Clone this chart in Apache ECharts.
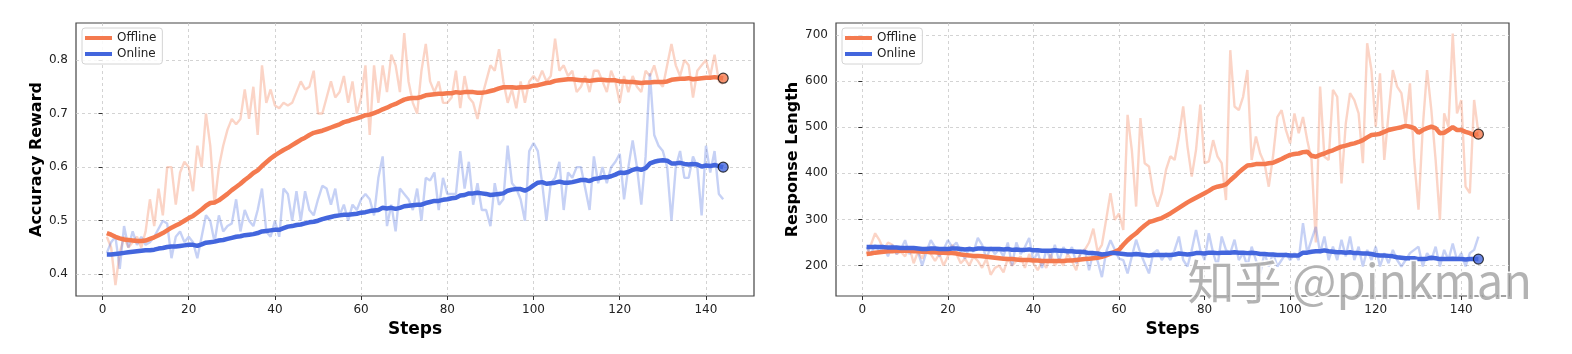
<!DOCTYPE html>
<html>
<head>
<meta charset="utf-8">
<script src="https://cdn.jsdelivr.net/npm/echarts@6.0.0/dist/echarts.min.js"></script>
<style>
  html, body { margin: 0; padding: 0; background: #fff; }
  #chart { width: 1572px; height: 354px; }
</style>
</head>
<body>
<div id="chart"></div>
<script>
// x: training step index
const steps = Array.from({ length: 144 }, (_, i) => i + 1);

// left panel: accuracy reward
const accOfflineRaw = [
  0.47, 0.45, 0.38, 0.44, 0.47, 0.45, 0.46, 0.47, 0.45, 0.48,
  0.54, 0.49, 0.56, 0.51, 0.60, 0.60, 0.53, 0.59, 0.61, 0.60,
  0.555, 0.64, 0.60, 0.70, 0.64, 0.53, 0.60, 0.64, 0.67, 0.69,
  0.68, 0.69, 0.745, 0.69, 0.75, 0.66, 0.79, 0.72, 0.745, 0.715,
  0.71, 0.72, 0.715, 0.72, 0.74, 0.76, 0.745, 0.75, 0.78, 0.70,
  0.70, 0.73, 0.76, 0.73, 0.74, 0.77, 0.72, 0.76, 0.70, 0.73,
  0.79, 0.66, 0.79, 0.72, 0.79, 0.74, 0.81, 0.79, 0.74, 0.85,
  0.76, 0.72, 0.70, 0.78, 0.83, 0.76, 0.74, 0.76, 0.72, 0.72,
  0.73, 0.78, 0.71, 0.77, 0.73, 0.72, 0.69, 0.73, 0.76, 0.79,
  0.78, 0.82, 0.76, 0.72, 0.745, 0.71, 0.76, 0.72, 0.76, 0.77,
  0.76, 0.78, 0.76, 0.77, 0.84, 0.78, 0.79, 0.77, 0.78, 0.74,
  0.75, 0.77, 0.74, 0.78, 0.78, 0.76, 0.74, 0.78, 0.76, 0.72,
  0.77, 0.74, 0.77, 0.75, 0.74, 0.78, 0.77, 0.79, 0.76, 0.75,
  0.79, 0.83, 0.79, 0.77, 0.80, 0.79, 0.73, 0.78, 0.79, 0.80,
  0.77, 0.81, 0.76, 0.755
];
const accOnlineRaw = [
  0.44, 0.46, 0.47, 0.41, 0.49, 0.45, 0.48, 0.455, 0.47, 0.455,
  0.46, 0.47, 0.485, 0.50, 0.495, 0.43, 0.47, 0.48, 0.46, 0.47,
  0.46, 0.43, 0.47, 0.51, 0.50, 0.46, 0.51, 0.48, 0.49, 0.495,
  0.54, 0.48, 0.52, 0.50, 0.49, 0.52, 0.56, 0.48, 0.47, 0.50,
  0.47, 0.56, 0.55, 0.50, 0.555, 0.50, 0.555, 0.52, 0.51, 0.54,
  0.565, 0.56, 0.53, 0.56, 0.51, 0.53, 0.50, 0.53, 0.52, 0.54,
  0.55, 0.54, 0.51, 0.58, 0.62, 0.49, 0.53, 0.48, 0.56, 0.55,
  0.54, 0.52, 0.56, 0.50, 0.58, 0.575, 0.59, 0.52, 0.58, 0.55,
  0.55, 0.55, 0.63, 0.56, 0.61, 0.53, 0.57, 0.52, 0.52, 0.49,
  0.57, 0.53, 0.54, 0.64, 0.57, 0.56, 0.54, 0.50, 0.63, 0.645,
  0.63, 0.57, 0.50, 0.57, 0.58, 0.61, 0.52, 0.59, 0.58, 0.60,
  0.60, 0.56, 0.52, 0.62, 0.57, 0.60, 0.57, 0.60, 0.61, 0.625,
  0.54, 0.60, 0.65, 0.60, 0.53, 0.62, 0.775, 0.66, 0.64, 0.63,
  0.60, 0.50, 0.60, 0.63, 0.58, 0.58, 0.62, 0.60, 0.51, 0.64,
  0.59, 0.63, 0.55, 0.54
];
const accOfflineSmooth = [
  0.477, 0.474, 0.470, 0.467, 0.465, 0.464, 0.463, 0.462, 0.462, 0.463,
  0.466, 0.469, 0.473, 0.477, 0.482, 0.487, 0.491, 0.495, 0.500, 0.505,
  0.509, 0.515, 0.521, 0.528, 0.533, 0.534, 0.538, 0.544, 0.550, 0.557,
  0.563, 0.569, 0.576, 0.582, 0.589, 0.594, 0.602, 0.609, 0.616, 0.622,
  0.627, 0.632, 0.636, 0.641, 0.646, 0.651, 0.655, 0.660, 0.664, 0.666,
  0.668, 0.671, 0.674, 0.677, 0.680, 0.684, 0.686, 0.689, 0.691, 0.694,
  0.697, 0.698, 0.701, 0.704, 0.708, 0.711, 0.715, 0.718, 0.722, 0.726,
  0.728, 0.729, 0.729, 0.731, 0.734, 0.735, 0.736, 0.737, 0.737, 0.738,
  0.738, 0.740, 0.739, 0.740, 0.740, 0.740, 0.739, 0.739, 0.740, 0.742,
  0.744, 0.747, 0.749, 0.749, 0.749, 0.748, 0.749, 0.749, 0.750, 0.752,
  0.753, 0.755, 0.757, 0.758, 0.761, 0.762, 0.763, 0.764, 0.764, 0.763,
  0.762, 0.762, 0.761, 0.762, 0.763, 0.763, 0.762, 0.762, 0.762, 0.760,
  0.760, 0.759, 0.759, 0.758, 0.757, 0.758, 0.758, 0.759, 0.759, 0.759,
  0.760, 0.763, 0.764, 0.765, 0.765, 0.766, 0.764, 0.765, 0.766, 0.767,
  0.767, 0.768, 0.767, 0.766
];
const accOnlineSmooth = [
  0.437, 0.437, 0.438, 0.439, 0.440, 0.441, 0.442, 0.443, 0.444, 0.445,
  0.445, 0.446, 0.448, 0.449, 0.451, 0.452, 0.452, 0.453, 0.454, 0.455,
  0.455, 0.453, 0.456, 0.459, 0.460, 0.461, 0.463, 0.464, 0.466, 0.468,
  0.470, 0.471, 0.473, 0.474, 0.475, 0.477, 0.480, 0.481, 0.482, 0.483,
  0.483, 0.486, 0.489, 0.490, 0.492, 0.493, 0.495, 0.497, 0.498, 0.500,
  0.503, 0.505, 0.507, 0.509, 0.510, 0.511, 0.511, 0.512, 0.513, 0.515,
  0.516, 0.518, 0.519, 0.520, 0.524, 0.523, 0.524, 0.522, 0.524, 0.527,
  0.528, 0.529, 0.530, 0.530, 0.533, 0.535, 0.537, 0.537, 0.539, 0.540,
  0.542, 0.543, 0.547, 0.548, 0.551, 0.551, 0.552, 0.551, 0.550, 0.548,
  0.549, 0.550, 0.551, 0.556, 0.558, 0.559, 0.559, 0.556, 0.560, 0.566,
  0.571, 0.572, 0.569, 0.570, 0.571, 0.573, 0.571, 0.571, 0.572, 0.574,
  0.576, 0.576, 0.574, 0.578, 0.579, 0.581, 0.581, 0.583, 0.586, 0.590,
  0.589, 0.591, 0.595, 0.597, 0.595, 0.598, 0.607, 0.610, 0.612, 0.613,
  0.612, 0.607, 0.607, 0.608, 0.606, 0.605, 0.606, 0.605, 0.601, 0.603,
  0.602, 0.604, 0.602, 0.600
];

// right panel: response length
const lenOfflineRaw = [
  225, 245, 270, 255, 235, 250, 245, 225, 230, 220,
  240, 205, 230, 215, 240, 225, 210, 225, 200, 220,
  245, 225, 205, 215, 200, 220, 210, 195, 215, 180,
  195, 200, 185, 215, 200, 210, 220, 195, 225, 205,
  190, 210, 195, 225, 200, 215, 200, 225, 210, 190,
  230, 234, 250, 280, 230, 245, 300, 357, 299, 313,
  277, 527, 450, 328, 520, 422, 415, 357, 328, 357,
  408, 437, 429, 480, 545, 458, 393, 451, 549, 422,
  426, 472, 437, 422, 342, 667, 545, 537, 566, 624,
  429, 480, 443, 422, 371, 437, 522, 537, 494, 465,
  530, 487, 522, 472, 429, 250, 588, 436, 429, 581,
  566, 378, 508, 574, 559, 530, 422, 682, 624, 501,
  617, 429, 530, 624, 588, 574, 508, 595, 429, 321,
  501, 624, 537, 429, 299, 530, 501, 703, 530, 559,
  371, 357, 559, 487
];
const lenOnlineRaw = [
  240, 225, 245, 230, 240, 220, 245, 225, 235, 255,
  225, 240, 230, 200, 230, 255, 240, 220, 235, 255,
  240, 250, 230, 215, 240, 230, 260, 245, 215, 240,
  225, 235, 220, 250, 200, 250, 225, 240, 260, 210,
  230, 195, 235, 215, 245, 210, 240, 225, 240, 205,
  225, 235, 190, 230, 210, 175, 230, 255, 235, 215,
  212, 183, 220, 256, 227, 205, 183, 227, 234, 212,
  227, 212, 234, 263, 212, 198, 234, 277, 234, 212,
  270, 227, 198, 263, 234, 227, 256, 212, 227, 198,
  241, 212, 183, 227, 198, 227, 198, 212, 227, 212,
  227, 212, 292, 227, 256, 284, 227, 263, 212, 241,
  212, 256, 220, 263, 212, 241, 198, 234, 212, 241,
  198, 227, 205, 234, 212, 198, 212, 227, 234, 241,
  198, 227, 212, 241, 198, 234, 212, 248, 212, 227,
  198, 227, 234, 263
];
const lenOfflineSmooth = [
  225, 226, 228, 229, 230, 231, 231, 232, 232, 232,
  232, 231, 231, 230, 230, 229, 229, 228, 228, 227,
  227, 226, 224, 223, 222, 221, 221, 220, 219, 218,
  217, 216, 215, 214, 214, 213, 212, 212, 212, 211,
  211, 210, 210, 210, 210, 210, 210, 211, 211, 212,
  213, 214, 215, 216, 217, 219, 222, 226, 230, 234,
  245, 255, 263, 270, 279, 287, 294, 297, 300, 303,
  308, 313, 319, 325, 331, 337, 342, 347, 352, 357,
  362, 368, 371, 373, 376, 385, 393, 402, 410, 417,
  418, 420, 420, 420, 422, 423, 427, 431, 436, 440,
  442, 443, 446, 447, 438, 436, 440, 443, 447, 450,
  454, 458, 460, 463, 465, 468, 472, 478, 483, 484,
  486, 490, 494, 496, 498, 500, 503, 501, 498, 488,
  494, 498, 501, 498, 487, 488, 494, 500, 494, 494,
  490, 487, 483, 485
];
const lenOnlineSmooth = [
  240, 240, 240, 240, 240, 239, 239, 239, 238, 238,
  238, 238, 237, 236, 236, 237, 237, 236, 236, 236,
  237, 237, 236, 235, 236, 235, 237, 237, 236, 236,
  236, 236, 235, 236, 234, 235, 234, 234, 235, 233,
  233, 232, 232, 232, 233, 232, 232, 231, 231, 230,
  230, 229, 227, 227, 226, 224, 225, 227, 227, 226,
  225, 224, 224, 225, 224, 223, 222, 223, 223, 223,
  223, 223, 224, 226, 225, 224, 225, 227, 227, 226,
  228, 228, 227, 228, 228, 228, 229, 228, 228, 227,
  228, 227, 225, 225, 224, 224, 223, 223, 223, 222,
  222, 222, 228, 228, 230, 231, 231, 233, 231, 230,
  229, 229, 228, 229, 227, 227, 226, 226, 225, 223,
  222, 222, 221, 220, 218, 217, 216, 216, 216, 214,
  214, 215, 217, 216, 214, 214, 214, 215, 214, 214,
  213, 214, 214, 214
];

// tick labels
const xTicks = [0, 20, 40, 60, 80, 100, 120, 140];
const accTicks = [0.4, 0.5, 0.6, 0.7, 0.8];
const lenTicks = [200, 300, 400, 500, 600, 700];

const ORANGE = '#F47A4F';
const BLUE = '#4366DD';
const FONT = 'DejaVu Sans';

const pair = ys => ys.map((y, i) => [steps[i], y]);
const last = ys => [[steps[steps.length - 1], ys[ys.length - 1]]];

const gridLine = { show: true, lineStyle: { color: '#c8c8c8', type: [3, 3], width: 0.8 } };

function xAxis(idx) {
  return {
    type: 'value', gridIndex: idx, min: -6.15, max: 151.15,
    name: 'Steps', nameLocation: 'middle', nameGap: 23,
    nameTextStyle: { fontFamily: FONT, fontSize: 17, fontWeight: 'bold', color: '#000' },
    axisLine: { show: false },
    axisTick: { show: true, inside: false, length: 4, customValues: xTicks, lineStyle: { color: '#333' } },
    axisLabel: { customValues: xTicks, margin: 8, fontFamily: FONT, fontSize: 12, color: '#222' },
    splitLine: gridLine
  };
}

function yAxis(idx, name, min, max, ticks, fmt, gap) {
  return {
    type: 'value', gridIndex: idx, min: min, max: max,
    name: name, nameLocation: 'middle', nameGap: gap,
    nameTextStyle: { fontFamily: FONT, fontSize: 16, fontWeight: 'bold', color: '#000' },
    axisLine: { show: false },
    axisTick: { show: true, inside: false, length: 4, customValues: ticks, lineStyle: { color: '#333' } },
    axisLabel: { customValues: ticks, margin: 8, fontFamily: FONT, fontSize: 12, color: '#222', formatter: fmt },
    splitLine: gridLine
  };
}

function panel(idx, offRaw, onRaw, offSm, onSm) {
  const base = { type: 'line', xAxisIndex: idx, yAxisIndex: idx, showSymbol: false, silent: true, animation: false };
  return [
    Object.assign({}, base, { name: 'Offline raw', data: pair(offRaw), z: 2,
      lineStyle: { color: ORANGE, width: 2.4, opacity: 0.32 } }),
    Object.assign({}, base, { name: 'Online raw', data: pair(onRaw), z: 2,
      lineStyle: { color: BLUE, width: 2.4, opacity: 0.3 } }),
    Object.assign({}, base, { name: 'Offline', data: pair(offSm), z: 3, color: ORANGE,
      lineStyle: { color: ORANGE, width: 4.5 } }),
    Object.assign({}, base, { name: 'Online', data: pair(onSm), z: 3, color: BLUE,
      lineStyle: { color: BLUE, width: 4.5 } }),
    { type: 'scatter', xAxisIndex: idx, yAxisIndex: idx, data: last(offSm), symbolSize: 10, z: 5, silent: true,
      itemStyle: { color: ORANGE, borderColor: '#111', borderWidth: 1.2 } },
    { type: 'scatter', xAxisIndex: idx, yAxisIndex: idx, data: last(onSm), symbolSize: 10, z: 5, silent: true,
      itemStyle: { color: BLUE, borderColor: '#111', borderWidth: 1.2 } }
  ];
}

function legend(left) {
  return {
    data: ['Offline', 'Online'], left: left, top: 28, orient: 'vertical',
    icon: 'rect', itemWidth: 27, itemHeight: 4, itemGap: 4,
    padding: [4, 6, 4, 3],
    textStyle: { fontFamily: FONT, fontSize: 12, color: '#222' },
    backgroundColor: 'rgba(255,255,255,0.85)', borderColor: '#d4d4d4', borderWidth: 1, borderRadius: 3,
    selectedMode: false
  };
}

const chart = echarts.init(document.getElementById('chart'), null, { renderer: 'canvas' });
chart.setOption({
  animation: false,
  backgroundColor: '#fff',
  grid: [
    { left: 76, top: 23, width: 678, height: 273, show: true, borderColor: '#444', borderWidth: 1.2, backgroundColor: 'transparent' },
    { left: 836, top: 23, width: 673, height: 273, show: true, borderColor: '#444', borderWidth: 1.2, backgroundColor: 'transparent' }
  ],
  xAxis: [xAxis(0), xAxis(1)],
  yAxis: [
    yAxis(0, 'Accuracy Reward', 0.3595, 0.869, accTicks, v => v.toFixed(1), 30),
    yAxis(1, 'Response Length', 134, 726, lenTicks, v => String(v), 33)
  ],
  legend: [legend(82), legend(842)],
  series: [].concat(
    panel(0, accOfflineRaw, accOnlineRaw, accOfflineSmooth, accOnlineSmooth),
    panel(1, lenOfflineRaw, lenOnlineRaw, lenOfflineSmooth, lenOnlineSmooth)
  ),
  graphic: [{
    type: 'text', left: 1186, top: 256, z: 100, silent: true,
    style: {
      text: '知乎 @pinkman',
      font: '47px "Noto Sans CJK SC"',
      fill: 'rgba(150,150,150,0.72)',
      stroke: 'rgba(255,255,255,0.9)', lineWidth: 3
    }
  }]
});
</script>
</body>
</html>
